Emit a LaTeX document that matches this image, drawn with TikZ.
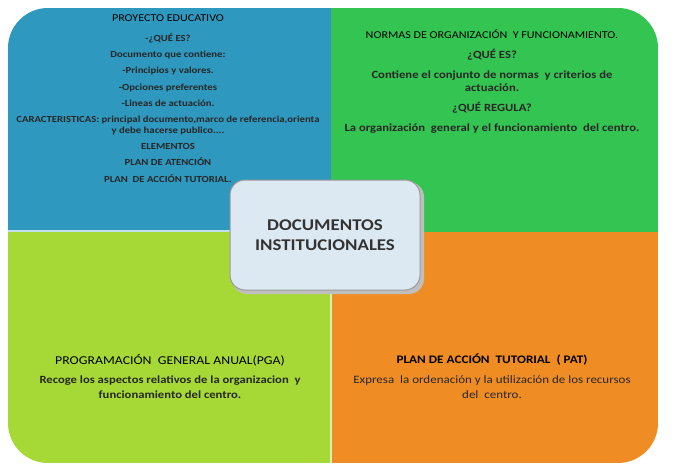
\documentclass[tikz,border=0pt]{standalone}
\usepackage{fontspec}
\setmainfont{Carlito}[FakeStretch=1.15]
\begin{document}
\begin{tikzpicture}[x=1pt,y=-1pt,
  txt/.style={align=center,font=\fontsize{9.3}{10.5}\selectfont\bfseries,text=black!85},
  ttl/.style={align=center,font=\fontsize{10}{12}\selectfont,text=black}]
\useasboundingbox (0,0) rectangle (683,474);
\definecolor{qblue}{HTML}{2F98BE}
\definecolor{qgreen}{HTML}{33C452}
\definecolor{qyellow}{HTML}{A6D935}
\definecolor{qorange}{HTML}{F08C24}
\definecolor{cbox}{HTML}{DCE9F2}
\begin{scope}
\clip[rounded corners=40] (8,8) rectangle (658,463);
\fill[qblue] (8,8) rectangle (331,232);
\fill[qgreen] (331,8) rectangle (658,232);
\fill[qyellow] (8,232) rectangle (331,463);
\fill[qorange] (331,232) rectangle (658,463);
\draw[white!70!qblue,line width=2] (8,231) -- (331,231);
\draw[white!60!qyellow,line width=1.5] (331,232) -- (331,463);
\end{scope}
\node[ttl,font=\fontsize{10.5}{12}\selectfont] (pe) at (168,18) {PROYECTO EDUCATIVO};
\node[txt,anchor=north] (pet) at (168,30) {-¿QUÉ ES?\\[5.8pt]
Documento que contiene:\\[5.8pt]
-Principios y valores.\\[5.8pt]
-Opciones preferentes\\[5.8pt]
-Lineas de actuación.\\[5.8pt]
CARACTERISTICAS: principal documento,marco de referencia,orienta\\
y debe hacerse publico....\\[5.8pt]
ELEMENTOS\\[5.8pt]
PLAN DE ATENCIÓN\\[5.8pt]
PLAN \ DE ACCIÓN TUTORIAL.};
\node[ttl,font=\fontsize{10.5}{12}\selectfont] (nf) at (492,34) {NORMAS DE ORGANIZACIÓN \ Y FUNCIONAMIENTO.};
\node[txt,anchor=north,font=\fontsize{11}{13}\selectfont\bfseries] (nft) at (492,46) {¿QUÉ ES?\\[7pt]
Contiene el conjunto de normas \ y criterios de\\ actuación.\\[7pt]
¿QUÉ REGULA?\\[7pt]
La organización \ general y el funcionamiento \ del centro.};
\node[ttl,font=\fontsize{12}{14}\selectfont] (pga) at (170,360) {PROGRAMACIÓN \ GENERAL ANUAL(PGA)};
\node[txt,anchor=north,font=\fontsize{11}{15}\selectfont\bfseries] (pgat) at (170,372) {Recoge los aspectos relativos de la organizacion \ y\\ funcionamiento del centro.};
\node[ttl,font=\fontsize{11.5}{14}\selectfont\bfseries] (pat) at (492,360) {PLAN DE ACCIÓN \ TUTORIAL \ ( PAT)};
\node[txt,anchor=north,font=\fontsize{11.3}{15}\selectfont\mdseries] (patt) at (492,372) {Expresa \ la ordenación y la utilización de los recursos\\ del \ centro.};
\fill[rounded corners=15,black!25] (232,182) rectangle (424,294);
\node[draw=black!40,line width=1,fill=cbox,rounded corners=15,minimum width=190,minimum height=110,
  align=center,font=\fontsize{16.4}{20}\selectfont\bfseries,text=black!80] (c) at (325,235) {DOCUMENTOS\\INSTITUCIONALES};
\end{tikzpicture}
\end{document}
